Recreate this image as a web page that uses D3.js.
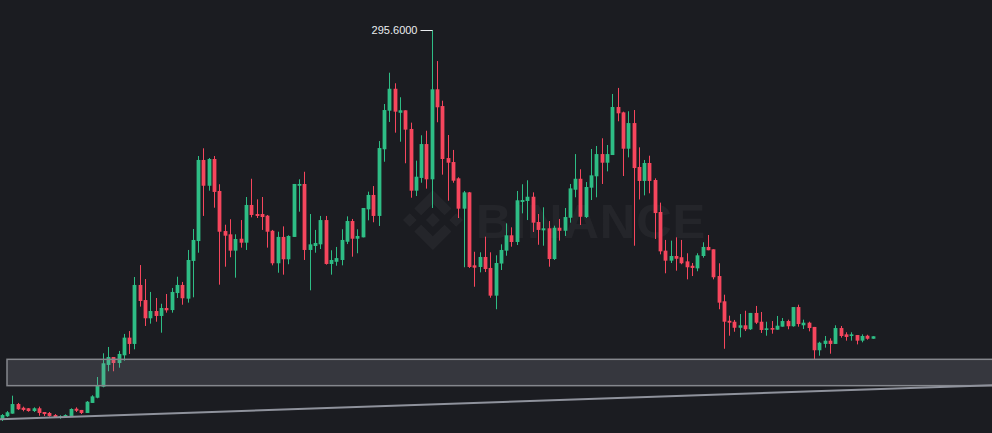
<!DOCTYPE html>
<html>
<head>
<meta charset="utf-8">
<script src="https://cdn.jsdelivr.net/npm/d3@7.9.0/dist/d3.min.js"></script>
<style>
  html, body { margin: 0; padding: 0; background: #1b1c21; overflow: hidden; }
  svg { display: block; }
</style>
</head>
<body>
<svg id="chart" width="992" height="433"></svg>
<script>
// candle values, left to right
const opens = [
  11.7, 14.1, 16.0, 23.0, 20.3, 19.9, 17.9, 19.9, 17.2, 16.5,
  15.0, 13.3, 13.8, 14.3, 19.6, 18.7, 16.5, 23.8, 27.6, 35.6,
  51.5, 57.3, 52.9, 58.5, 71.4, 66.8, 109.8, 98.8, 85.5, 90.8,
  87.2, 93.0, 91.5, 103.9, 109.8, 99.8, 127.3, 141.8, 200.9, 182.1,
  201.6, 178.3, 149.1, 146.7, 134.8, 143.5, 140.6, 168.1, 161.5, 161.5,
  160.3, 149.3, 125.6, 144.8, 128.5, 144.8, 182.1, 183.4, 135.3, 138.2,
  139.4, 157.1, 125.1, 126.7, 128.0, 141.3, 156.4, 143.5, 144.5, 164.9,
  175.4, 160.1, 208.7, 236.8, 252.8, 235.3, 237.1, 223.5, 178.5, 187.8,
  212.5, 186.8, 252.4, 240.2, 202.3, 199.4, 187.5, 165.4, 177.3, 124.1,
  122.9, 130.2, 122.2, 102.0, 125.4, 134.8, 146.0, 141.1, 170.3, 171.0,
  174.1, 155.7, 149.6, 151.1, 128.7, 151.5, 149.3, 158.8, 179.2, 187.2,
  159.3, 180.7, 189.0, 205.2, 198.9, 204.5, 239.5, 235.6, 209.1, 227.8,
  195.8, 185.6, 198.7, 186.3, 163.0, 134.8, 127.5, 130.9, 130.0, 127.0,
  123.8, 121.9, 130.9, 137.5, 135.8, 116.3, 97.9, 83.7, 83.0, 78.6,
  80.4, 77.5, 89.4, 83.0, 77.0, 78.4, 77.2, 79.4, 83.5, 79.7,
  93.7, 80.4, 82.3, 79.2, 62.2, 66.8, 69.2, 66.8, 78.4, 73.8,
  72.6, 73.3, 69.2, 72.8, 70.6
];
const highs = [
  15.7, 17.9, 29.1, 23.8, 21.1, 20.1, 20.6, 21.1, 17.2, 17.2,
  15.7, 14.8, 15.5, 19.9, 20.6, 18.7, 25.2, 29.4, 42.7, 60.0,
  64.6, 57.3, 61.7, 74.1, 76.2, 115.6, 124.3, 114.1, 104.7, 100.3,
  96.1, 103.2, 107.6, 115.8, 112.0, 135.3, 150.6, 203.8, 209.4, 202.3,
  203.8, 183.2, 153.7, 157.7, 146.7, 157.1, 173.9, 187.2, 172.2, 173.9,
  160.8, 149.9, 148.6, 152.5, 146.0, 183.4, 186.8, 192.3, 161.5, 149.9,
  160.1, 160.1, 135.1, 137.5, 150.4, 159.8, 157.9, 150.4, 165.9, 177.8,
  181.9, 214.7, 241.7, 264.5, 256.8, 246.6, 237.1, 228.1, 200.4, 218.9,
  222.2, 295.6, 273.0, 244.1, 219.1, 208.2, 188.3, 178.3, 177.6, 134.0,
  133.6, 145.0, 133.6, 131.4, 139.4, 154.7, 151.8, 178.3, 183.2, 186.1,
  177.3, 161.5, 166.4, 156.4, 153.0, 157.9, 165.9, 183.4, 205.2, 194.1,
  184.8, 208.9, 211.1, 216.7, 211.8, 249.0, 253.4, 236.1, 236.4, 237.3,
  210.1, 200.9, 204.0, 187.5, 169.8, 142.6, 142.1, 144.5, 142.6, 132.9,
  125.8, 132.9, 140.9, 146.2, 135.8, 125.6, 102.7, 87.4, 84.3, 88.6,
  91.0, 89.4, 94.5, 90.1, 83.0, 83.5, 87.2, 85.7, 84.5, 93.7,
  95.4, 84.5, 83.0, 79.2, 68.4, 72.6, 70.9, 80.4, 79.9, 75.3,
  75.3, 73.3, 73.8, 73.5, 72.4
];
const lows = [
  10.6, 13.6, 16.0, 18.7, 17.7, 17.4, 17.2, 14.5, 14.3, 13.8,
  13.0, 12.3, 13.3, 14.3, 17.2, 15.7, 16.5, 23.8, 27.2, 35.2,
  46.9, 46.9, 49.5, 54.6, 59.5, 62.9, 94.0, 79.9, 81.6, 83.0,
  75.0, 89.6, 89.6, 100.3, 95.4, 96.9, 100.8, 133.3, 160.1, 178.5,
  166.1, 110.0, 123.1, 130.0, 115.1, 137.0, 135.3, 159.1, 158.6, 149.9,
  137.0, 124.1, 118.7, 117.3, 124.9, 144.8, 163.2, 128.0, 105.9, 133.3,
  136.0, 124.6, 117.3, 123.8, 124.1, 139.6, 130.4, 132.9, 144.5, 156.9,
  155.5, 152.8, 199.6, 228.6, 220.8, 214.2, 198.5, 173.4, 174.6, 184.3,
  180.0, 165.9, 228.4, 190.2, 171.2, 184.3, 158.6, 122.7, 122.2, 108.5,
  119.0, 119.2, 100.5, 92.1, 120.7, 131.1, 137.7, 138.9, 162.0, 157.1,
  148.4, 139.1, 138.4, 123.1, 128.0, 142.1, 145.5, 155.2, 173.7, 153.5,
  158.6, 171.7, 173.7, 183.4, 192.6, 204.5, 229.1, 189.2, 202.8, 138.4,
  172.1, 175.1, 176.6, 143.3, 132.1, 118.3, 125.8, 120.2, 124.9, 113.9,
  116.3, 119.8, 129.7, 135.1, 113.9, 92.1, 63.3, 72.8, 75.7, 71.6,
  76.2, 77.0, 81.3, 74.8, 72.8, 74.3, 77.2, 79.4, 77.5, 79.4,
  79.4, 77.7, 76.0, 55.8, 58.2, 64.1, 59.7, 66.8, 71.4, 69.2,
  69.2, 66.5, 68.0, 69.9, 70.6
];
const closes = [
  15.0, 17.0, 23.0, 19.2, 18.7, 17.9, 19.9, 16.5, 15.7, 14.3,
  13.3, 14.1, 15.0, 19.4, 18.1, 16.5, 24.7, 28.6, 36.9, 52.7,
  57.3, 52.9, 59.5, 71.4, 66.8, 109.8, 98.1, 85.5, 90.8, 87.2,
  93.0, 91.3, 104.7, 109.8, 100.1, 128.0, 142.6, 200.9, 182.1, 201.6,
  177.6, 148.6, 145.7, 134.8, 143.3, 140.6, 168.1, 160.8, 160.1, 159.3,
  148.6, 125.6, 144.8, 128.5, 145.5, 183.4, 183.4, 135.3, 139.4, 140.4,
  157.1, 125.1, 128.0, 129.4, 142.6, 156.4, 143.5, 145.5, 165.9, 175.4,
  160.1, 209.6, 237.3, 252.8, 236.1, 237.1, 223.0, 178.5, 188.7, 212.5,
  186.8, 252.4, 239.3, 201.6, 198.9, 185.8, 165.4, 177.3, 122.9, 122.4,
  130.2, 121.4, 102.0, 125.8, 135.3, 146.0, 141.1, 171.5, 171.7, 174.1,
  155.2, 149.9, 151.1, 128.7, 151.5, 149.3, 159.3, 180.2, 187.2, 159.5,
  181.2, 189.7, 205.2, 198.9, 205.2, 239.5, 234.9, 209.1, 227.8, 195.0,
  185.6, 198.7, 185.6, 162.2, 134.3, 127.5, 130.9, 128.9, 125.6, 122.7,
  122.2, 131.4, 137.5, 135.1, 115.4, 96.9, 83.0, 82.3, 78.6, 80.4,
  77.5, 89.4, 82.3, 77.0, 78.2, 77.2, 80.1, 83.5, 79.7, 93.7,
  81.3, 82.3, 78.4, 62.2, 67.7, 69.2, 66.8, 78.4, 72.6, 71.9,
  73.8, 69.2, 72.6, 70.6, 72.4
];

// support zone (price band) starting at candle 1, and a rising trend line
const zoneTop = 55.6;
const zoneBottom = 36.4;
const zoneStart = 1;
const trendIdx = [0, 160];
const trendPrice = [11.9, 33.2];

const width = 992, height = 433;
const up = '#2ebd85', down = '#f6465d';

const candles = opens.map((o, i) => ({ i, o, h: highs[i], l: lows[i], c: closes[i] }));

const x = d3.scaleLinear().domain([0, candles.length - 1]).range([1.7, 872.5]);
const y = d3.scaleLinear().domain([0, 300]).range([435.6, 24]);
const bodyW = 3.8;

const svg = d3.select('#chart');

// watermark
const wm = svg.append('g').attr('fill', '#ffffff').attr('fill-opacity', 0.045);
wm.append('path')
  .attr('transform', 'translate(403,190) scale(0.476)')
  .attr('d', 'M38.171 53.203L62.759 28.616l24.601 24.6 14.307-14.307L62.759 0 23.864 38.896zM0 63.001l14.307-14.307 14.307 14.307L14.307 77.308zM38.171 72.797l24.588 24.587 24.6-24.6 14.315 14.3-.007.008L62.759 126 23.864 87.105l-.02-.02zM97.386 63.007l14.307-14.307L126 63.006l-14.307 14.307zM77.27 62.993h.006L62.759 48.476 52.03 59.205l-1.233 1.232-2.542 2.542-.02.02.02.021 14.504 14.505 14.517-14.518.007-.007z');
wm.append('text')
  .attr('x', 476).attr('y', 238)
  .attr('font-family', 'Liberation Sans, Arial, sans-serif')
  .attr('font-weight', 'bold')
  .attr('font-size', 49)
  .attr('letter-spacing', 1)
  .text('BINANCE');

// candles
const g = svg.append('g');
g.selectAll('line.wick')
  .data(candles)
  .join('line')
  .attr('class', 'wick')
  .attr('x1', d => Math.round(x(d.i)) + 0.5)
  .attr('x2', d => Math.round(x(d.i)) + 0.5)
  .attr('y1', d => y(d.h))
  .attr('y2', d => y(d.l))
  .attr('stroke', d => d.c >= d.o ? up : down)
  .attr('stroke-width', 1);

g.selectAll('rect.body')
  .data(candles)
  .join('rect')
  .attr('class', 'body')
  .attr('x', d => Math.round(x(d.i)) + 0.5 - bodyW / 2)
  .attr('width', bodyW)
  .attr('y', d => y(Math.max(d.o, d.c)))
  .attr('height', d => Math.max(1, Math.abs(y(d.o) - y(d.c))))
  .attr('fill', d => d.c >= d.o ? up : down);

// zone rectangle
svg.append('rect')
  .attr('x', x(zoneStart))
  .attr('y', y(zoneTop))
  .attr('width', width - x(zoneStart) + 10)
  .attr('height', y(zoneBottom) - y(zoneTop))
  .attr('fill', 'rgba(150,155,170,0.22)')
  .attr('stroke', '#85878d')
  .attr('stroke-width', 1.5);

// trend line extended to both edges
const slope = (trendPrice[1] - trendPrice[0]) / (trendIdx[1] - trendIdx[0]);
const iLeft = x.invert(0), iRight = x.invert(width);
svg.append('line')
  .attr('x1', 0)
  .attr('y1', y(trendPrice[0] + slope * (iLeft - trendIdx[0])))
  .attr('x2', width)
  .attr('y2', y(trendPrice[0] + slope * (iRight - trendIdx[0])))
  .attr('stroke', '#8f929c')
  .attr('stroke-width', 2);

// highest high marker
const peak = candles.reduce((a, b) => (b.h > a.h ? b : a));
const px = Math.round(x(peak.i)) + 0.5;
svg.append('line')
  .attr('x1', px - 12).attr('x2', px)
  .attr('y1', Math.round(y(peak.h)) + 0.5).attr('y2', Math.round(y(peak.h)) + 0.5)
  .attr('stroke', '#eaecef').attr('stroke-width', 1);
svg.append('text')
  .attr('x', px - 15)
  .attr('y', y(peak.h) + 4)
  .attr('text-anchor', 'end')
  .attr('font-family', 'Liberation Sans, Arial, sans-serif')
  .attr('font-size', 11)
  .attr('fill', '#eaecef')
  .text(peak.h.toFixed(4));
</script>
</body>
</html>
